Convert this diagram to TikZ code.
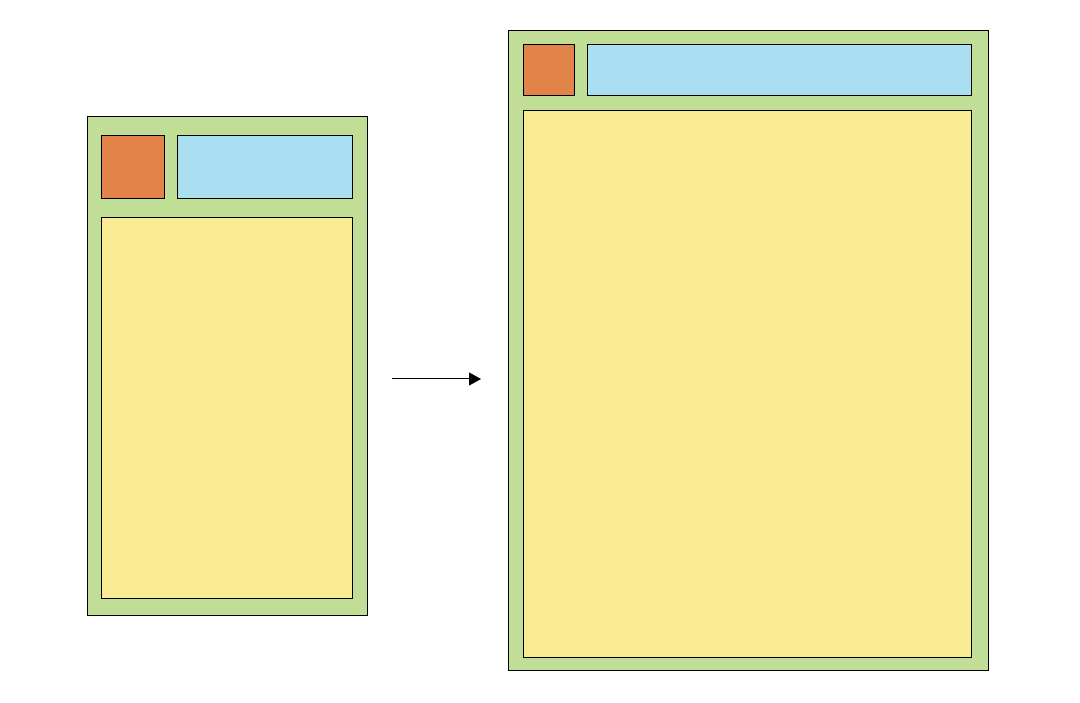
\documentclass[tikz,border=0pt]{standalone}
\usepackage{tikz}
\usetikzlibrary{arrows.meta}

\definecolor{framegreen}{RGB}{192,222,150}
\definecolor{logoorange}{RGB}{226,131,74}
\definecolor{headerblue}{RGB}{169,223,240}
\definecolor{bodyyellow}{RGB}{251,234,148}

\begin{document}
\begin{tikzpicture}
[x=1pt,y=-1pt,line width=1pt,%
  every node/.style={shape=rectangle,draw,anchor=north west,inner sep=0pt,outer sep=0pt},%
  frame/.style={fill=framegreen},%
  logo/.style={fill=logoorange},%
  header/.style={fill=headerblue},%
  body/.style={fill=bodyyellow}]
\useasboundingbox (0,0) rectangle (1080,703);
% small window
\node[frame,minimum width=280pt,minimum height=498pt] (smallframe) at (87,117) {};
\node[logo,minimum width=63pt,minimum height=63pt] (smalllogo) at (101,136) {};
\node[header,minimum width=175pt,minimum height=63pt] (smallheader) at (177,136) {};
\node[body,minimum width=251pt,minimum height=380pt] (smallbody) at (101,218) {};
% large window
\node[frame,minimum width=480pt,minimum height=639pt] (bigframe) at (508,31) {};
\node[logo,minimum width=51pt,minimum height=51pt] (biglogo) at (523,45) {};
\node[header,minimum width=384pt,minimum height=51pt] (bigheader) at (587,45) {};
\node[body,minimum width=448pt,minimum height=546pt] (bigbody) at (523,111) {};
% arrow
\coordinate (from) at (392,379);
\coordinate (to) at (481,379);
\draw[-{Triangle[length=12pt,width=13pt]},line width=1pt] (from) -- (to);
\end{tikzpicture}
\end{document}
